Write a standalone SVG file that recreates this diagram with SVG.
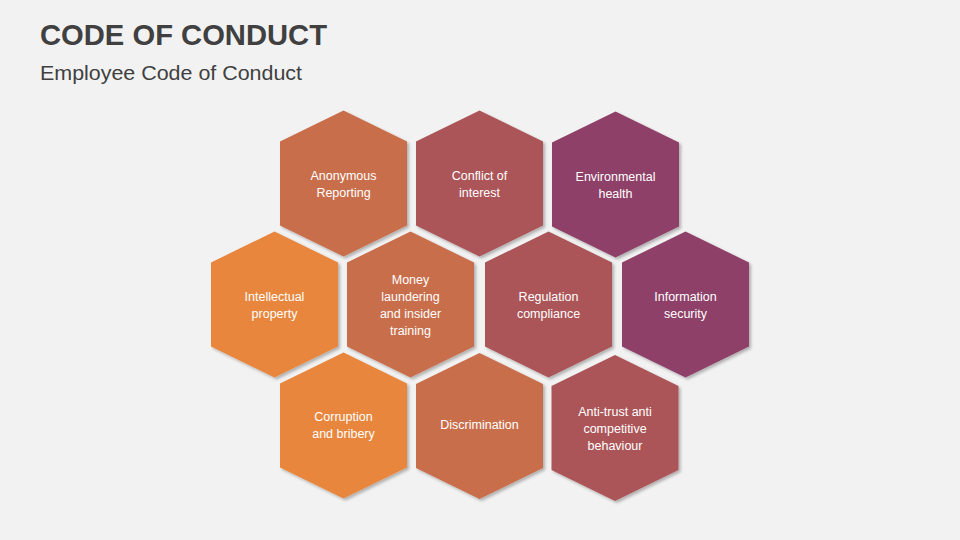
<svg xmlns="http://www.w3.org/2000/svg" xmlns:xlink="http://www.w3.org/1999/xlink" width="960" height="540" viewBox="0 0 960 540">
  <style>
    .title { font-family: "Liberation Sans", Arial, sans-serif; font-weight: bold; font-size: 30px; fill: #404040; }
    .subtitle { font-family: "Liberation Sans", Arial, sans-serif; font-size: 20px; fill: #404040; }
    .lbl { font-family: "Liberation Sans", Arial, sans-serif; font-size: 12.5px; fill: #FFFFFF; text-anchor: middle; }
    .c1 { fill: #E8863C; }
    .c2 { fill: #C96E4C; }
    .c3 { fill: #AB5558; }
    .c4 { fill: #8E4068; }
  </style>
  <defs>
    <filter id="sh" x="-20%" y="-20%" width="140%" height="140%">
      <feDropShadow dx="2" dy="2" stdDeviation="1.8" flood-color="#000000" flood-opacity="0.28"/>
    </filter>
    <polygon id="hex" points="0,-73 63.5,-42 63.5,42 0,73 -63.5,42 -63.5,-42"/>
  </defs>
  <rect width="960" height="540" fill="#F2F2F2"/>
  <text class="title" x="40" y="45" textLength="287" lengthAdjust="spacingAndGlyphs">CODE OF CONDUCT</text>
  <text class="subtitle" x="40" y="80" textLength="262" lengthAdjust="spacingAndGlyphs">Employee Code of Conduct</text>

  <g id="connectors"/>

  <g id="anonymous-reporting">
    <use xlink:href="#hex" href="#hex" x="343.5" y="183.5" class="c2" filter="url(#sh)"/>
    <text class="lbl" x="343.5" y="179.5">Anonymous</text>
    <text class="lbl" x="343.5" y="196.5">Reporting</text>
  </g>
  <g id="conflict-of-interest">
    <use xlink:href="#hex" href="#hex" x="479.5" y="183.5" class="c3" filter="url(#sh)"/>
    <text class="lbl" x="479.5" y="179.5">Conflict of</text>
    <text class="lbl" x="479.5" y="196.5">interest</text>
  </g>
  <g id="environmental-health">
    <use xlink:href="#hex" href="#hex" x="615.5" y="184.5" class="c4" filter="url(#sh)"/>
    <text class="lbl" x="615.5" y="180.5">Environmental</text>
    <text class="lbl" x="615.5" y="197.5">health</text>
  </g>

  <g id="intellectual-property">
    <use xlink:href="#hex" href="#hex" x="274.5" y="304.5" class="c1" filter="url(#sh)"/>
    <text class="lbl" x="274.5" y="300.5">Intellectual</text>
    <text class="lbl" x="274.5" y="317.5">property</text>
  </g>
  <g id="money-laundering">
    <use xlink:href="#hex" href="#hex" x="410.5" y="304.5" class="c2" filter="url(#sh)"/>
    <text class="lbl" x="410.5" y="283.5">Money</text>
    <text class="lbl" x="410.5" y="300.5">laundering</text>
    <text class="lbl" x="410.5" y="317.5">and insider</text>
    <text class="lbl" x="410.5" y="334.5">training</text>
  </g>
  <g id="regulation-compliance">
    <use xlink:href="#hex" href="#hex" x="548.5" y="304.5" class="c3" filter="url(#sh)"/>
    <text class="lbl" x="548.5" y="300.5">Regulation</text>
    <text class="lbl" x="548.5" y="317.5">compliance</text>
  </g>
  <g id="information-security">
    <use xlink:href="#hex" href="#hex" x="685.5" y="304.5" class="c4" filter="url(#sh)"/>
    <text class="lbl" x="685.5" y="300.5">Information</text>
    <text class="lbl" x="685.5" y="317.5">security</text>
  </g>

  <g id="corruption-and-bribery">
    <use xlink:href="#hex" href="#hex" x="343.5" y="425.5" class="c1" filter="url(#sh)"/>
    <text class="lbl" x="343.5" y="421">Corruption</text>
    <text class="lbl" x="343.5" y="438">and bribery</text>
  </g>
  <g id="discrimination">
    <use xlink:href="#hex" href="#hex" x="479.5" y="426" class="c2" filter="url(#sh)"/>
    <text class="lbl" x="479.5" y="428.5">Discrimination</text>
  </g>
  <g id="anti-trust">
    <use xlink:href="#hex" href="#hex" x="615" y="428" class="c3" filter="url(#sh)"/>
    <text class="lbl" x="615" y="415.5">Anti-trust anti</text>
    <text class="lbl" x="615" y="432.5">competitive</text>
    <text class="lbl" x="615" y="449.5">behaviour</text>
  </g>
</svg>
